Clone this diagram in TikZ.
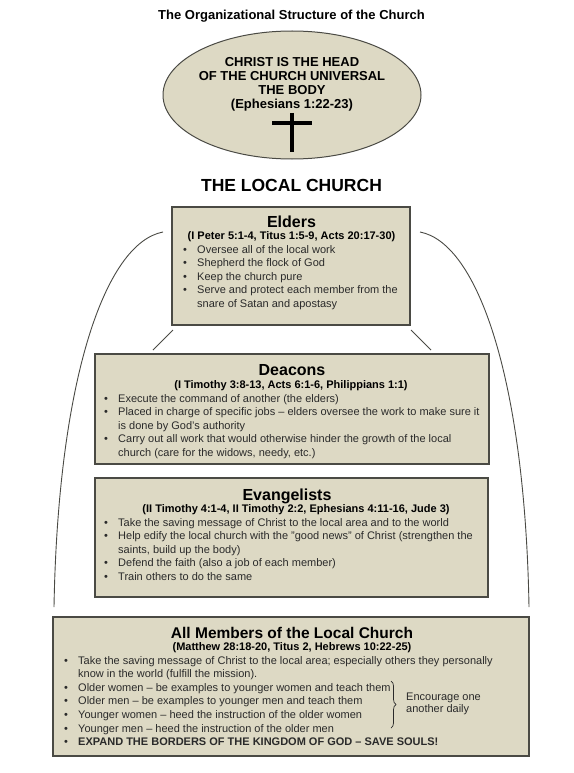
\documentclass[tikz,border=0pt]{standalone}
\usepackage{fontspec}
\setmainfont{Liberation Sans}
\usetikzlibrary{shapes.geometric,decorations.pathreplacing}
\definecolor{tan}{HTML}{DDD9C4}
\definecolor{edge}{HTML}{4A4A44}
\definecolor{ink}{HTML}{2A2A2A}
\newcommand{\fs}[2]{\fontsize{#1}{#2}\selectfont}
\newcommand{\bit}{\makebox[14pt][l]{\textbullet}}
\newcommand{\hng}{\makebox[14pt]{}}
\begin{document}
\begin{tikzpicture}[x=1pt,y=-1pt,
  box/.style={draw=edge,line width=1.3pt,fill=tan,inner sep=0pt},
  hd/.style={font=\bfseries\fs{16}{18},anchor=base},
  rf/.style={font=\bfseries\fs{11}{13},anchor=base},
  lst/.style={font=\fs{11}{13.6},text=ink,align=left,anchor=north west,inner sep=0pt},
  link/.style={draw=edge,line width=0.9pt}]
\useasboundingbox (0,0) rectangle (573,773);
% heading and the head of the church
\node[font=\bfseries\fs{13}{15},anchor=base] (title) at (291.5,20) {The Organizational Structure of the Church};
\node[ellipse,draw=edge,line width=1pt,fill=tan,minimum width=258pt,minimum height=128pt,inner sep=0pt] (head) at (292,95) {};
\node[font=\bfseries\fs{13}{14},align=center,anchor=north,inner sep=0pt] (headtxt) at (292,57.5)
  {CHRIST IS THE HEAD\\OF THE CHURCH UNIVERSAL\\THE BODY\\(Ephesians 1:22-23)};
\draw[line width=3.5pt] (292,113) -- (292,152);
\draw[line width=3.5pt] (272,123) -- (312,123);
\node[font=\bfseries\fs{17.5}{20},anchor=base] (local) at (291.5,191) {THE LOCAL CHURCH};
% the four boxes
\node[box,minimum width=238pt,minimum height=118pt] (elders) at (291,266) {};
\node[box,minimum width=394pt,minimum height=110pt] (deacons) at (292,409) {};
\node[box,minimum width=393pt,minimum height=119pt] (evang) at (291.5,537.5) {};
\node[box,minimum width=476pt,minimum height=139pt] (members) at (291,686.5) {};
% elders
\node[hd] (eldhd) at (291.5,227) {Elders};
\node[rf] (eldrf) at (291.5,239) {(I Peter 5:1-4, Titus 1:5-9, Acts 20:17-30)};
\node[lst] (eldls) at (183,245) {\bit Oversee all of the local work\\
  \bit Shepherd the flock of God\\
  \bit Keep the church pure\\
  \bit Serve and protect each member from the\\
  \hng snare of Satan and apostasy};
% deacons
\node[hd] (deahd) at (292,375) {Deacons};
\node[rf] (dearf) at (291,388) {(I Timothy 3:8-13, Acts 6:1-6, Philippians 1:1)};
\node[lst] (deals) at (104,394) {\bit Execute the command of another (the elders)\\
  \bit Placed in charge of specific jobs – elders oversee the work to make sure it\\
  \hng is done by God’s authority\\
  \bit Carry out all work that would otherwise hinder the growth of the local\\
  \hng church (care for the widows, needy, etc.)};
% evangelists
\node[hd] (evahd) at (287,500) {Evangelists};
\node[rf] (evarf) at (296,512) {(II Timothy 4:1-4, II Timothy 2:2, Ephesians 4:11-16, Jude 3)};
\node[lst] (evals) at (104,518) {\bit Take the saving message of Christ to the local area and to the world\\
  \bit Help edify the local church with the "good news" of Christ (strengthen the\\
  \hng saints, build up the body)\\
  \bit Defend the faith (also a job of each member)\\
  \bit Train others to do the same};
% all members
\node[hd,font=\bfseries\fs{15.5}{18}] (memhd) at (292,638) {All Members of the Local Church};
\node[rf] (memrf) at (292,650) {(Matthew 28:18-20, Titus 2, Hebrews 10:22-25)};
\node[lst] (memls) at (64,656) {\bit Take the saving message of Christ to the local area; especially others they personally\\
  \hng know in the world (fulfill the mission).\\
  \bit Older women – be examples to younger women and teach them\\
  \bit Older men – be examples to younger men and teach them\\
  \bit Younger women – heed the instruction of the older women\\
  \bit Younger men – heed the instruction of the older men\\
  \bit \textbf{EXPAND THE BORDERS OF THE KINGDOM OF GOD – SAVE SOULS!}};
\coordinate (bt) at (391,681);
\coordinate (bb) at (391,728);
\draw[ink,line width=0.7pt,decorate,decoration={brace,amplitude=5pt}] (bt) -- (bb);
\node[lst,anchor=west,font=\fs{11}{12.5}] (enc) at (406,704) {Encourage one\\another daily};
% arcs round the local church
\coordinate (la1) at (163,232);
\coordinate (la2) at (54,607);
\coordinate (ra1) at (420,232);
\coordinate (ra2) at (529,607);
\draw[link] (la1) .. controls (105,243) and (58,380) .. (la2);
\draw[link] (ra1) .. controls (478,243) and (525,380) .. (ra2);
% short strokes under the elders
\coordinate (dl1) at (173,330);
\coordinate (dl2) at (153,350);
\coordinate (dr1) at (411,330);
\coordinate (dr2) at (431,350);
\draw[link] (dl1) -- (dl2);
\draw[link] (dr1) -- (dr2);
\end{tikzpicture}
\end{document}
